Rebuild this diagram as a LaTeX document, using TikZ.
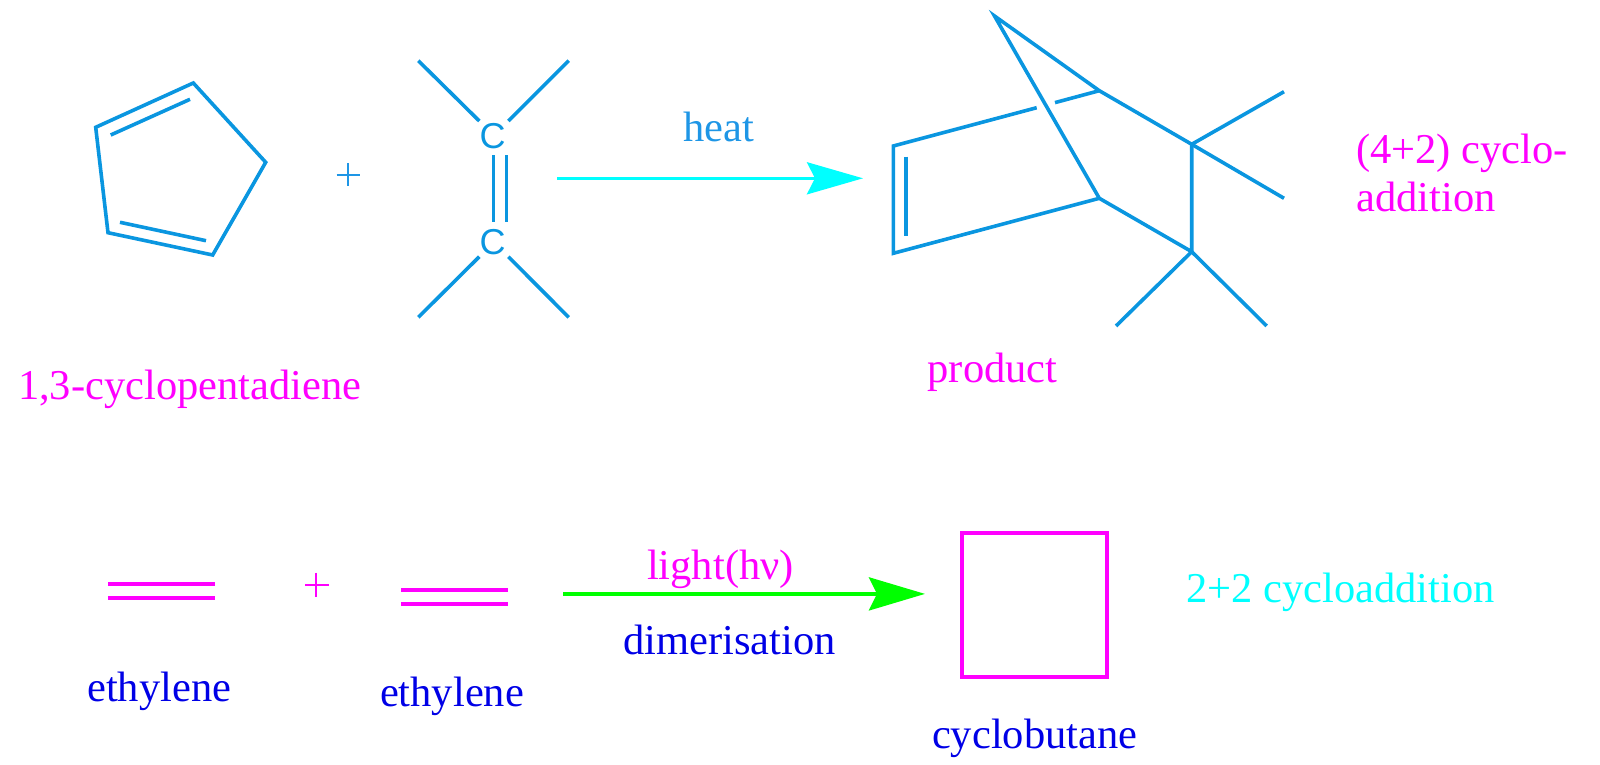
\documentclass[tikz,border=0pt]{standalone}
\usepackage{fontspec}
\setmainfont{Liberation Serif}
\setsansfont{Liberation Sans}
\usetikzlibrary{arrows.meta}
\definecolor{bondblue}{HTML}{0A96E0}
\definecolor{heatblue}{HTML}{1E96E6}
\definecolor{magentatxt}{HTML}{FF00FF}
\definecolor{bluetxt}{HTML}{0000E6}
\definecolor{cyanarrow}{HTML}{00FFFF}
\definecolor{greenarrow}{HTML}{00FF00}
\tikzset{
  bond/.style={draw=bondblue,line width=3.6pt,line join=miter},
  pinkbond/.style={draw=magentatxt,line width=3.8pt,line join=miter},
  label/.style={inner sep=0pt,font=\fontsize{42.5}{46}\selectfont},
  atom/.style={inner sep=0pt,text=bondblue,font=\sffamily\fontsize{36}{36}\selectfont},
  plussign/.style={draw=heatblue,line width=1.7pt},
  cyanarr/.style={draw=cyanarrow,line width=3.6pt,-{Stealth[length=56pt,width=32pt,inset=8pt,fill=cyanarrow]}},
  greenarr/.style={draw=greenarrow,line width=4.2pt,-{Stealth[length=56pt,width=33pt,inset=8pt,fill=greenarrow]}},
}
\begin{document}
\begin{tikzpicture}[x=1pt,y=-1pt]
\useasboundingbox (0,0) rectangle (1600,765);
% cyclopentadiene
\coordinate (p1) at (95.7,127.3);
\coordinate (p2) at (193.3,83);
\coordinate (p3) at (265.7,162.3);
\coordinate (p4) at (212.7,255);
\coordinate (p5) at (108,232.7);
\draw[bond] (p1)--(p2)--(p3)--(p4)--(p5)--cycle;
\coordinate (i1) at (110.7,135);
\coordinate (i2) at (190,99.3);
\coordinate (i3) at (120,222.3);
\coordinate (i4) at (206,240.7);
\draw[bond] (i1)--(i2);
\draw[bond] (i3)--(i4);
% plus
\coordinate (pa) at (336.7,174.7);
\coordinate (pb) at (360,174.7);
\coordinate (pc) at (348.3,163.3);
\coordinate (pd) at (348.3,186);
\draw[plussign] (pa)--(pb);
\draw[plussign] (pc)--(pd);
% alkene
\node[atom] (c1) at (492.7,135.7) {C};
\node[atom] (c2) at (492.7,242.3) {C};
\coordinate (a1) at (418.3,60.7);
\coordinate (a2) at (568.7,60.7);
\coordinate (a3) at (418.3,317.3);
\coordinate (a4) at (568.7,317.3);
\coordinate (a1e) at (479.3,121);
\coordinate (a2e) at (508.3,121);
\coordinate (a3e) at (479.3,256.7);
\coordinate (a4e) at (508.3,256.7);
\draw[bond] (a1)--(a1e);
\draw[bond] (a2)--(a2e);
\draw[bond] (a3)--(a3e);
\draw[bond] (a4)--(a4e);
\coordinate (d1) at (493.3,155);
\coordinate (d2) at (493.3,222.3);
\coordinate (d3) at (506.3,155);
\coordinate (d4) at (506.3,222.3);
\draw[bond] (d1)--(d2);
\draw[bond] (d3)--(d4);
% heat arrow
\coordinate (h1) at (557.3,178.3);
\coordinate (h2) at (863,178.3);
\draw[cyanarr] (h1)--(h2);
\node[label,text=heatblue,anchor=base] (heat) at (718.5,142) {heat};
% product
\coordinate (q1) at (893.3,146);
\coordinate (q2) at (893.3,253.3);
\coordinate (q3) at (1099.3,198.3);
\coordinate (q4) at (1191.7,251.7);
\coordinate (q5) at (1191.7,144.3);
\coordinate (q6) at (1099.3,90.7);
\coordinate (q7) at (994.5,16);
\coordinate (g1) at (1036.7,107.7);
\coordinate (g2) at (1055,102.6);
\draw[bond] (g1)--(q1)--(q2)--(q3)--(q4)--(q5)--(q6)--(q7)--(q3);
\draw[bond] (g2)--(q6);
\coordinate (q8) at (906,156.7);
\coordinate (q9) at (906,236);
\draw[bond] (q8)--(q9);
\coordinate (t1) at (1284,91.7);
\coordinate (t2) at (1284,198.3);
\coordinate (t3) at (1116,326);
\coordinate (t4) at (1266.7,326);
\draw[bond] (q5)--(t1);
\draw[bond] (q5)--(t2);
\draw[bond] (q4)--(t3);
\draw[bond] (q4)--(t4);
% top labels
\node[label,text=magentatxt,anchor=base] (n1) at (189.8,399) {1,3-cyclopentadiene};
\node[label,text=magentatxt,anchor=base] (n2) at (992.5,382.6) {product};
\node[label,text=magentatxt,anchor=base west] (n3) at (1356,164) {(4+2) cyclo-};
\node[label,text=magentatxt,anchor=base west] (n4) at (1356,211) {addition};
% ethylene
\coordinate (e1) at (108.2,583.7);
\coordinate (e2) at (215.3,583.7);
\coordinate (e3) at (108.2,598);
\coordinate (e4) at (215.3,598);
\draw[pinkbond] (e1)--(e2);
\draw[pinkbond] (e3)--(e4);
\coordinate (f1) at (401,589.8);
\coordinate (f2) at (508.2,589.8);
\coordinate (f3) at (401,604.1);
\coordinate (f4) at (508.2,604.1);
\draw[pinkbond] (f1)--(f2);
\draw[pinkbond] (f3)--(f4);
\coordinate (pe) at (305.1,584.7);
\coordinate (pf) at (328.6,584.7);
\coordinate (pg) at (316.3,572.5);
\coordinate (ph) at (316.3,597);
\draw[plussign,draw=magentatxt] (pe)--(pf);
\draw[plussign,draw=magentatxt] (pg)--(ph);
% light arrow
\coordinate (l1) at (563.3,593.9);
\coordinate (l2) at (925,593.9);
\draw[greenarr] (l1)--(l2);
\node[label,text=magentatxt,anchor=base] (light) at (720.4,579.5) {light(hν)};
\node[label,text=bluetxt,anchor=base] (dim) at (729.6,654) {dimerisation};
% cyclobutane
\coordinate (s1) at (962.2,532.6);
\coordinate (s2) at (1107.2,532.6);
\coordinate (s3) at (1107.2,676.6);
\coordinate (s4) at (962.2,676.6);
\draw[pinkbond] (s1)--(s2)--(s3)--(s4)--cycle;
\node[label,text=bluetxt,anchor=base] (n5) at (159.2,701) {ethylene};
\node[label,text=bluetxt,anchor=base] (n6) at (452,706) {ethylene};
\node[label,text=bluetxt,anchor=base] (n7) at (1034.7,748) {cyclobutane};
\node[label,text=cyanarrow,anchor=base] (n8) at (1340.5,602) {2+2 cycloaddition};
\end{tikzpicture}
\end{document}
